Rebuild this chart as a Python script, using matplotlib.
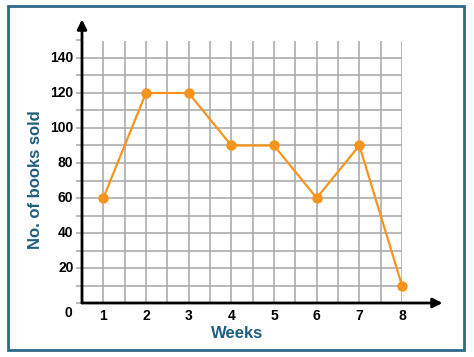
import matplotlib.pyplot as plt
from matplotlib.patches import Rectangle
import numpy as np

weeks = [1, 2, 3, 4, 5, 6, 7, 8]
books = [60, 120, 120, 90, 90, 60, 90, 10]
ytick_vals = [20, 40, 60, 80, 100, 120, 140]

W, H = 474, 357
fig = plt.figure(figsize=(W / 100, H / 100), dpi=100)
plt.rcParams['font.family'] = ['Liberation Sans', 'DejaVu Sans']

# axes placed in pixel terms: x 0.5..8 -> 82..402 px, y 0..150 -> 303..40.5 px
x0, x1 = 82, 402
y0, y1 = 303, 40.5
ax = fig.add_axes([x0 / W, 1 - y0 / H, (x1 - x0) / W, (y0 - y1) / H])
ax.set_xlim(0.5, 8)
ax.set_ylim(0, 150)

for s in ax.spines.values():
    s.set_visible(False)

# grid
ax.set_xticks(np.arange(0.5, 8.01, 0.5))
ax.set_yticks(np.arange(0, 151, 10))
ax.grid(True, color='#a6a6a6', lw=1.1)
ax.tick_params(axis='x', length=0, labelbottom=False)
ax.tick_params(axis='y', length=4, color='#a6a6a6', width=1.1, labelleft=False)

for w in weeks:
    ax.text(w, -3.5, str(w), ha='center', va='top', fontsize=10, fontweight='bold')
for v in ytick_vals:
    ax.text(0.5 - 0.2, v, str(v), ha='right', va='center', fontsize=10, fontweight='bold')
ax.text(0.5 - 0.22, -1.5, '0', ha='right', va='top', fontsize=10, fontweight='bold')

# arrow axes
ax.annotate('', xy=(8.95, 0), xytext=(0.5, 0), annotation_clip=False,
            arrowprops=dict(arrowstyle='-|>', color='black', lw=2, mutation_scale=14,
                            shrinkA=0, shrinkB=0))
ax.annotate('', xy=(0.5, 162), xytext=(0.5, 0), annotation_clip=False,
            arrowprops=dict(arrowstyle='-|>', color='black', lw=2, mutation_scale=14,
                            shrinkA=0, shrinkB=0))

ax.plot(weeks, books, color='#f7941d', lw=1.6, marker='o', markersize=6.5,
        clip_on=False, zorder=5)

label_color = '#1f5f80'
fig.text(237 / W, 1 - 333 / H, 'Weeks', ha='center', va='center',
         fontsize=12, fontweight='bold', color=label_color)
fig.text(36 / W, 1 - 180 / H, 'No. of books sold', ha='center', va='center',
         rotation=90, fontsize=12, fontweight='bold', color=label_color)

fig.patches.append(Rectangle((8 / W, 1 - 350 / H), 456 / W, 344 / H,
                             transform=fig.transFigure, fill=False,
                             edgecolor='#2b6a86', lw=2))

fig.savefig('out.png', dpi=100)
